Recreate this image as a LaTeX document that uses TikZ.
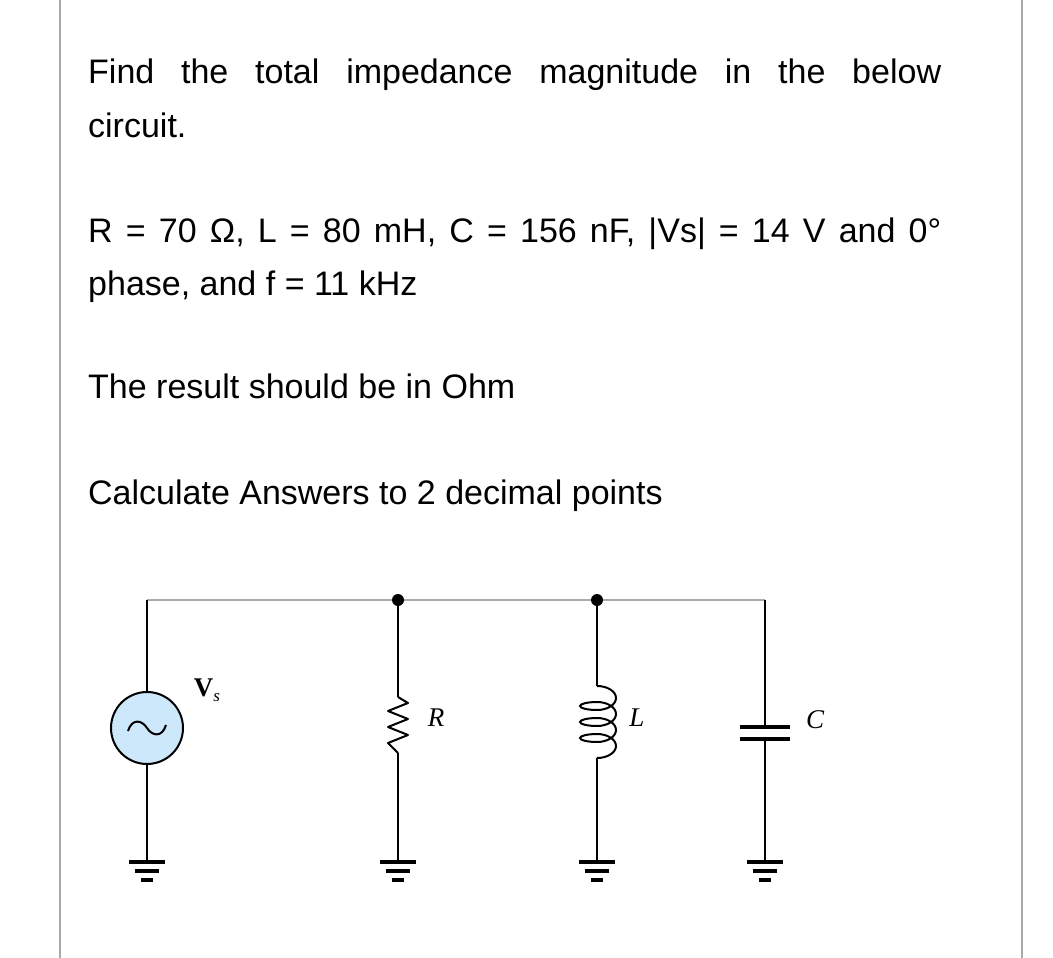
\documentclass[tikz,border=0pt]{standalone}
\usepackage{fontspec}
\setmainfont{Liberation Sans}
\newfontfamily\circfont{Liberation Serif}
\definecolor{srcblue}{RGB}{205,232,250}
\definecolor{wiregray}{RGB}{170,170,170}
\tikzset{
  qtext/.style={anchor=base west, inner sep=0, font=\fontsize{34}{40}\selectfont},
  wire/.style={line width=1.8},
  clabel/.style={font=\circfont\itshape\fontsize{27}{30}\selectfont, inner sep=0},
  gnd/.style={line width=3.4},
}
\newcommand\groundat[1]{%
  \draw[gnd] ([xshift=-18]#1) -- ([xshift=18]#1);
  \draw[gnd] ([xshift=-12,yshift=-9]#1) -- ([xshift=12,yshift=-9]#1);
  \draw[gnd] ([xshift=-6,yshift=-18]#1) -- ([xshift=6,yshift=-18]#1);
}
\begin{document}
\begin{tikzpicture}[x=1pt,y=-1pt]
\useasboundingbox (0,0) rectangle (1053,958);
\draw[wiregray,line width=1.5] (60,0) -- (60,958) (1022,0) -- (1022,958);
% question text
\node[qtext] (q1) at (88,84) {\makebox[853pt][s]{Find the total impedance magnitude in the below}};
\node[qtext] (q2) at (88,137) {circuit.};
\node[qtext] (q3) at (88,242) {\makebox[853pt][s]{R = 70 Ω, L = 80 mH, C = 156 nF, |Vs| = 14 V and 0°}};
\node[qtext] (q4) at (88,295) {phase, and f = 11 kHz};
\node[qtext] (q5) at (88,398) {The result should be in Ohm};
\node[qtext] (q6) at (88,504) {Calculate Answers to 2 decimal points};
% circuit nodes
\coordinate (tl) at (147,600);
\coordinate (tr) at (765,600);
\coordinate (jr) at (398,600);
\coordinate (jl) at (597,600);
\node[draw,circle,line width=2,fill=srcblue,minimum size=72] (src) at (147,728) {};
\draw[line width=2] ([xshift=-19,yshift=-3]src.center) .. controls ([xshift=-15,yshift=10]src.center) and ([xshift=-5,yshift=8]src.center) .. (src.center)
  .. controls ([xshift=5,yshift=-8]src.center) and ([xshift=15,yshift=-10]src.center) .. ([xshift=19,yshift=3]src.center);
\coordinate (gs) at (147,862);
\coordinate (gr) at (398,862);
\coordinate (gl) at (597,862);
\coordinate (gc) at (765,862);
\coordinate (ra) at (398,697);
\coordinate (rb) at (398,753);
\coordinate (la) at (597,686);
\coordinate (lb) at (597,758);
\coordinate (ca) at (765,727);
\coordinate (cb) at (765,739);
% wires
\draw[wiregray,line width=2.2] (tl) -- (tr);
\draw[wire] (tl) -- (src.north) (src.south) -- (gs);
\draw[wire] (jr) -- (ra) (rb) -- (gr);
\draw[wire] (jl) -- (la) (lb) -- (gl);
\draw[wire] (tr) -- (ca) (cb) -- (gc);
\fill (jr) circle (6) (jl) circle (6);
% resistor
\draw[line width=2,line join=round] (ra) -- ++(10,6) -- ++(-20,8) -- ++(20,8) -- ++(-20,8) -- ++(20,8) -- ++(-20,8) -- ++(10,10);
% inductor
\draw[line width=2] (la) arc (-90:90:19 and 12)
  arc (90:270:17 and 4) arc (-90:90:19 and 12)
  arc (90:270:17 and 4) arc (-90:90:19 and 12)
  arc (90:270:17 and 4) arc (-90:90:19 and 12);
% capacitor
\draw[line width=4] ([xshift=-25]ca) -- ([xshift=25]ca) ([xshift=-25]cb) -- ([xshift=25]cb);
% grounds
\groundat{gs}\groundat{gr}\groundat{gl}\groundat{gc}
% labels
\node[clabel,font=\circfont\bfseries\fontsize{27}{30}\selectfont] (vs) at (207,690) {V\raisebox{-5pt}{\itshape\mdseries\fontsize{17}{18}\selectfont s}};
\node[clabel] (rl) at (436,718) {R};
\node[clabel] (ll) at (637,718) {L};
\node[clabel] (cl) at (815,720) {C};
\end{tikzpicture}
\end{document}
